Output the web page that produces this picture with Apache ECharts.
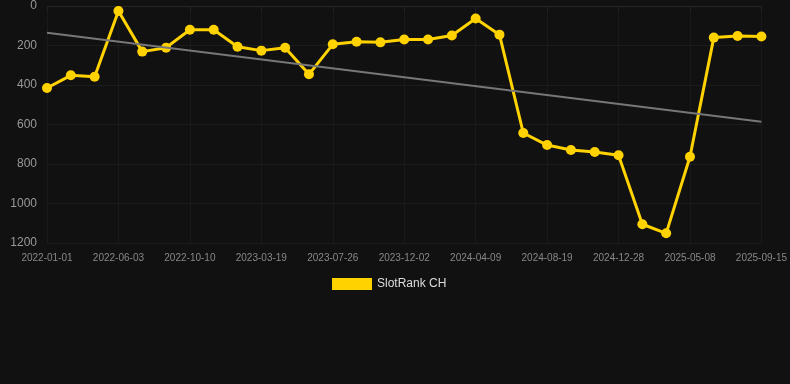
<!DOCTYPE html>
<html>
<head>
<meta charset="utf-8">
<script src="https://cdn.jsdelivr.net/npm/echarts@6/dist/echarts.min.js"></script>
<style>
    html, body { margin: 0; padding: 0; background: #111111; }
    #chart { width: 790px; height: 384px; }
</style>
</head>
<body>
<div id="chart"></div>
<script>
// categories (every 3rd one is shown on the axis)
const dates = [
    '2022-01-01', '2022-02-20', '2022-04-12', '2022-06-03', '2022-07-16', '2022-08-28',
    '2022-10-10', '2022-12-07', '2023-02-01', '2023-03-19', '2023-05-01', '2023-06-13',
    '2023-07-26', '2023-09-08', '2023-10-21', '2023-12-02', '2024-01-14', '2024-02-26',
    '2024-04-09', '2024-05-22', '2024-07-05', '2024-08-19', '2024-10-01', '2024-11-14',
    '2024-12-28', '2025-02-07', '2025-03-24', '2025-05-08', '2025-06-19', '2025-08-01',
    '2025-09-15'
];
// rank values
const rankCH = [
    415, 351, 358, 25, 231, 211,
    120, 120, 206, 226, 211, 346,
    194, 181, 184, 170, 170, 149,
    63, 145, 643, 704, 729, 739,
    756, 1105, 1151, 763, 160, 152,
    154
];
// trend line ends
const trendEnds = [135, 586];

let myChart = echarts.init(document.getElementById('chart'));
let option = {
    backgroundColor: '#111111',
    animation: false,
    grid: {
        left: 47,
        right: 28,
        top: 6,
        bottom: 141
    },
    legend: {
        top: 278,
        left: 332,
        padding: 0,
        icon: 'rect',
        itemWidth: 40,
        itemHeight: 12,
        textStyle: { color: '#dddddd', fontSize: 12 },
        data: ['SlotRank CH']
    },
    xAxis: {
        type: 'category',
        data: dates,
        boundaryGap: false,
        axisLabel: {
            interval: 2,
            color: '#888888',
            fontSize: 10,
            margin: 10
        },
        axisTick: {
            show: true,
            interval: 2,
            lineStyle: { color: '#222222' }
        },
        axisLine: {
            show: true,
            lineStyle: { color: '#262626' }
        },
        splitLine: {
            show: true,
            interval: 2,
            lineStyle: { color: '#1a1a1a' }
        }
    },
    yAxis: {
        type: 'value',
        inverse: true,
        min: 0,
        max: 1200,
        interval: 200,
        axisLabel: {
            color: '#999999',
            fontSize: 12,
            margin: 10,
            formatter: (v) => String(v)
        },
        axisLine: { show: false },
        axisTick: { show: false },
        splitLine: {
            show: true,
            lineStyle: { color: '#1c1c1c' }
        }
    },
    series: [
        {
            name: 'SlotRank CH',
            type: 'line',
            data: rankCH,
            symbol: 'circle',
            symbolSize: 10,
            lineStyle: { color: '#ffd200', width: 3 },
            itemStyle: { color: '#ffd200' },
            markLine: {
                silent: true,
                symbol: ['none', 'none'],
                label: { show: false },
                lineStyle: { color: '#777777', width: 2, type: 'solid' },
                data: [
                    [
                        { coord: [dates[0], trendEnds[0]] },
                        { coord: [dates[dates.length - 1], trendEnds[1]] }
                    ]
                ]
            }
        }
    ]
};
myChart.setOption(option, true);
</script>
</body>
</html>
